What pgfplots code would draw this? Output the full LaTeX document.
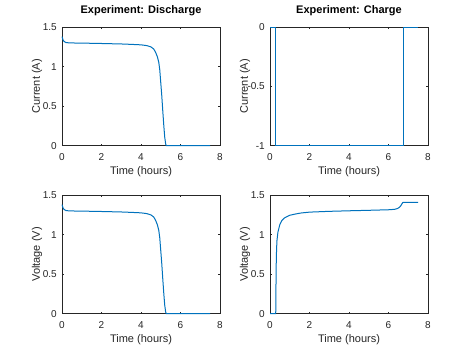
\documentclass[border=0pt]{standalone}
\usepackage{fontspec}
\setmainfont{Liberation Sans}
\usepackage{pgfplots}
\usepackage{pgfplotstable}
\pgfplotsset{compat=1.18}
\definecolor{mblue}{rgb}{0,0.447,0.741}
\definecolor{axgray}{rgb}{0.15,0.15,0.15}

\pgfplotstableread{
t v
0 1.38
0.05 1.34
0.1 1.32
0.2 1.305
0.4 1.300
1 1.298
2 1.293
3 1.287
3.5 1.282
4 1.276
4.3 1.266
4.5 1.250
4.65 1.222
4.75 1.175
4.83 1.125
4.9 1.055
4.95 0.96
5.0 0.80
5.05 0.64
5.1 0.45
5.15 0.27
5.2 0.11
5.25 0.02
5.28 0
7.5 0
}\discharge

\pgfplotstableread{
t v
0 0
0.29 0
0.29 -1
6.77 -1
6.77 0
7.5 0
}\chargecur

\pgfplotstableread{
t v
0 0
0.29 0
0.30 0.30
0.32 0.72
0.35 0.92
0.4 1.03
0.5 1.13
0.6 1.18
0.75 1.215
1.0 1.245
1.3 1.262
1.6 1.275
2 1.285
3 1.295
4 1.302
5 1.308
6 1.315
6.3 1.320
6.45 1.330
6.55 1.345
6.62 1.365
6.68 1.390
6.72 1.405
6.77 1.410
7.5 1.410
}\chargevolt

\pgfplotsset{
  mstyle/.style={
    scale only axis,
    width=118.5pt, height=88.9pt,
    xmin=0, xmax=8, xtick={0,2,4,6,8},
    clip=false,
    tick align=inside,
    major tick length=1.6pt,
    axis line style={draw=none},
    every tick/.style={axgray, line width=0.4pt},
    /pgf/number format/assume math mode=true,
    tick label style={font=\fontsize{7.5}{9}\selectfont, text=axgray},
    xticklabel style={anchor=center, yshift=-8.25pt},
    yticklabel style={anchor=east, inner sep=0pt, xshift=-3.75pt},
    label style={font=\fontsize{8.25}{10}\selectfont, text=axgray},
    xlabel={Time (hours)},
    xlabel style={at={(axis description cs:0.5,-0.219)}, anchor=center},
    ylabel style={at={(axis description cs:-0.158,0.5)}, anchor=center},
    title style={font=\bfseries\fontsize{8.25}{10}\selectfont, text=black, at={(axis description cs:0.5,1.071)}, anchor=center},
  },
  mline/.style={mblue, line width=0.75pt, no marks},
}
\newcommand{\frameaxis}{\draw[axgray, line width=0.5pt] (rel axis cs:0,0) rectangle (rel axis cs:1,1);}

\begin{document}
\begin{tikzpicture}
\path[use as bounding box, fill=white] (0,0) rectangle (355.5pt,266.25pt);

\begin{axis}[mstyle, at={(46.5pt,157pt)}, anchor=south west,
  ymin=0, ymax=1.5, ytick={0,0.5,1,1.5},
  ylabel={Current (A)}, title={Experiment: Discharge}]
\frameaxis
\addplot[mline] table[x=t,y=v] {\discharge};
\end{axis}

\begin{axis}[mstyle, at={(202.5pt,157pt)}, anchor=south west,
  ymin=-1, ymax=0, ytick={-1,-0.5,0},
  ylabel={Current (A)}, title={Experiment: Charge}]
\frameaxis
\addplot[mline] table[x=t,y=v] {\chargecur};
\end{axis}

\begin{axis}[mstyle, at={(46.5pt,31pt)}, anchor=south west,
  ymin=0, ymax=1.5, ytick={0,0.5,1,1.5},
  ylabel={Voltage (V)}]
\frameaxis
\addplot[mline] table[x=t,y=v] {\discharge};
\end{axis}

\begin{axis}[mstyle, at={(202.5pt,31pt)}, anchor=south west,
  ymin=0, ymax=1.5, ytick={0,0.5,1,1.5},
  ylabel={Voltage (V)}]
\frameaxis
\addplot[mline] table[x=t,y=v] {\chargevolt};
\end{axis}
\end{tikzpicture}
\end{document}
